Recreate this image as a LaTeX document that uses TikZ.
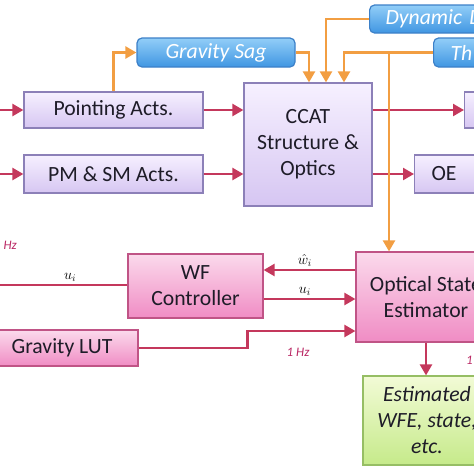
\documentclass[tikz,border=0pt]{standalone}
\usepackage{fontspec}
\setmainfont{Carlito}
\usetikzlibrary{arrows.meta}

\definecolor{sigred}{RGB}{196,56,92}
\definecolor{distorange}{RGB}{242,158,66}
\definecolor{hzred}{RGB}{186,40,100}
\definecolor{textdark}{RGB}{30,28,40}
\definecolor{acttop}{RGB}{246,240,255}
\definecolor{actbot}{RGB}{214,198,242}
\definecolor{actline}{RGB}{140,128,184}
\definecolor{ctltop}{RGB}{251,218,236}
\definecolor{ctlbot}{RGB}{240,140,196}
\definecolor{ctlline}{RGB}{192,84,134}
\definecolor{disttop}{RGB}{146,206,248}
\definecolor{distbot}{RGB}{64,150,226}
\definecolor{distline}{RGB}{60,128,200}
\definecolor{outtop}{RGB}{242,251,214}
\definecolor{outbot}{RGB}{198,234,138}
\definecolor{outline}{RGB}{150,190,100}

\begin{document}
\begin{tikzpicture}[x=1pt,y=-1pt,
    box/.style={rectangle, draw, line width=1.2pt, inner sep=0pt, align=center,
      text=textdark, font=\fontsize{21.7}{26}\selectfont},
    actbox/.style={box, draw=actline, top color=acttop, bottom color=actbot},
    ctlbox/.style={box, draw=ctlline, top color=ctltop, bottom color=ctlbot},
    outbox/.style={box, draw=outline, top color=outtop, bottom color=outbot,
      font=\fontsize{21.7}{26}\selectfont\itshape},
    distbox/.style={box, draw=distline, top color=disttop, bottom color=distbot,
      rounded corners=5pt, text=white, font=\fontsize{21.7}{26}\selectfont\itshape},
    sigline/.style={draw=sigred, line width=2.4pt},
    sigarrow/.style={sigline, -{Triangle[length=11pt,width=12pt]}},
    distarrow/.style={draw=distorange, line width=2.4pt, -{Triangle[length=11pt,width=12pt]}},
    lbl/.style={inner sep=2.5pt, font=\fontsize{14}{15}\selectfont},
    hzlbl/.style={inner sep=0pt, text=hzred, font=\fontsize{13}{14}\selectfont\itshape}]
  \useasboundingbox (0,0) rectangle (474,474);
  \clip (0,0) rectangle (474,474);

  % Nodes
  \node (pt) at (113.5,110) [actbox, minimum width=179pt, minimum height=36pt] {Pointing Acts.};
  \node (pm) at (113.5,174) [actbox, minimum width=179pt, minimum height=38pt] {PM \& SM Acts.};
  \node (ccat) at (308,144.5) [actbox, minimum width=128pt, minimum height=123pt] {CCAT\\Structure \&\\Optics};
  \node (rtop) at (464,110) [actbox, anchor=west, minimum width=150pt, minimum height=36pt] {};
  \node (oe) at (414,174) [actbox, anchor=west, minimum height=38pt, inner xsep=17pt,
    text width=150pt, align=left] {OE};
  \node (sag) at (216,52.5) [distbox, minimum width=158pt, minimum height=29pt] {Gravity Sag};
  \node (dyn) at (369,19) [distbox, anchor=west, minimum height=28pt, inner xsep=16pt,
    text width=180pt, align=left] {Dynamic D};
  \node (th) at (433,52.5) [distbox, anchor=west, minimum height=29pt, inner xsep=17pt,
    text width=150pt, align=left] {Th};
  \node (wf) at (195.5,286) [ctlbox, minimum width=135pt, minimum height=64pt] {WF\\Controller};
  \node (ose) at (426,297) [ctlbox, minimum width=140pt, minimum height=90pt] {Optical State\\Estimator};
  \node (lut) at (62,348) [ctlbox, minimum width=152pt, minimum height=36pt] {Gravity LUT};
  \node (est) at (427,420.5) [outbox, minimum width=128pt, minimum height=89pt] {Estimated\\WFE, state,\\etc.};

  \node (hzin) at (17,245) [hzlbl, anchor=east] {1 Hz};
  \node (hzlut) at (298,352) [hzlbl] {1 Hz};
  \node (hzest) at (466,360) [hzlbl, anchor=west] {1 Hz};

  \coordinate (inpt) at (0,110);
  \coordinate (inpm) at (0,174);
  \coordinate (inu) at (0,285);
  \coordinate (tap) at (389,52.5);
  \coordinate (wfhi) at ([yshift=16pt]wf.east);
  \coordinate (wflo) at ([yshift=-13pt]wf.east);
  \coordinate (oselo) at ([yshift=-34pt]ose.west);

  % Edges
  \draw[sigarrow] (inpt) -- (pt.west);
  \draw[sigarrow] (inpm) -- (pm.west);
  \draw[sigarrow] (pt.east) -- (pt.east -| ccat.west);
  \draw[sigarrow] (pm.east) -- (pm.east -| ccat.west);
  \draw[sigarrow] (ccat.east |- rtop.west) -- (rtop.west);
  \draw[sigarrow] (ccat.east |- oe.west) -- (oe.west);

  \draw[sigline] (inu) -- (inu -| wf.west) node[lbl, above, pos=0.55] (ulft) {$u_i$};
  \draw[sigarrow] (wfhi -| ose.west) -- (wfhi) node[lbl, above, pos=0.55] (wlbl) {$\hat{w}_i$};
  \draw[sigarrow] (wflo) -- (wflo -| ose.west) node[lbl, above, pos=0.45] (urgt) {$u_i$};
  \draw[sigarrow] (lut.east) -- ++(109,0) |- (oselo);
  \draw[sigarrow] (ose.south) -- (ose.south |- est.north);

  \draw[distarrow] (pt.north) |- (sag.west);
  \draw[distarrow] (sag.east) -| ([xshift=1pt]ccat.north);
  \draw[distarrow] (dyn.west) -| ([xshift=18pt]ccat.north);
  \draw[distarrow] (th.west) -| ([xshift=36pt]ccat.north);
  \draw[distarrow] (tap) -- (tap |- ose.north);
\end{tikzpicture}
\end{document}
